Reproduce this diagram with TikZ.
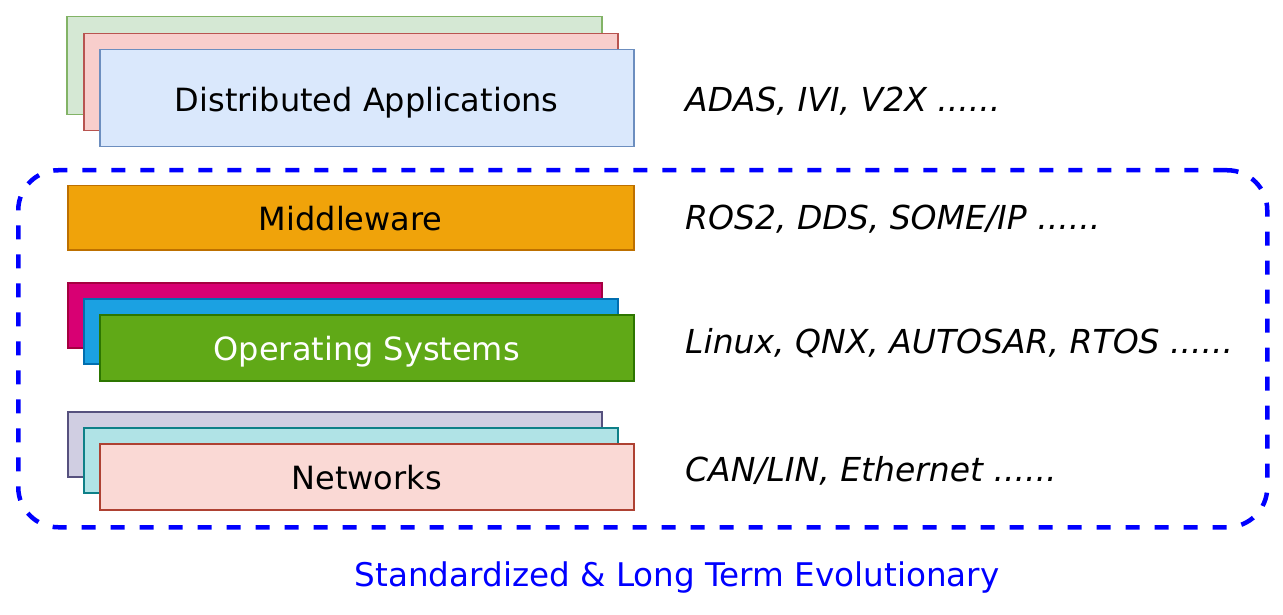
\documentclass[tikz,border=0pt]{standalone}
\usepackage{fontspec}
\setmainfont{DejaVu Sans}
\begin{document}
\begin{tikzpicture}[x=1pt,y=-1pt,
  layer/.style={draw, line width=1.5pt, inner sep=0pt, anchor=north west, text height=30pt, text depth=4pt, font=\fontsize{32}{38}\selectfont},
  side/.style={anchor=west, inner sep=0pt, font=\fontsize{33}{38}\selectfont\itshape},
]
\useasboundingbox (0,0) rectangle (1283,615);
\definecolor{gA}{HTML}{D5E8D4}\definecolor{gAb}{HTML}{82B366}
\definecolor{rA}{HTML}{F8CECC}\definecolor{rAb}{HTML}{B85450}
\definecolor{bA}{HTML}{DAE8FC}\definecolor{bAb}{HTML}{6C8EBF}
\definecolor{mw}{HTML}{F0A30A}\definecolor{mwb}{HTML}{BD7000}
\definecolor{mag}{HTML}{D80073}\definecolor{magb}{HTML}{A50040}
\definecolor{cyb}{HTML}{1BA1E2}\definecolor{cybb}{HTML}{006EAF}
\definecolor{grn}{HTML}{60A917}\definecolor{grnb}{HTML}{2D7600}
\definecolor{pur}{HTML}{D0CEE2}\definecolor{purb}{HTML}{56517E}
\definecolor{tea}{HTML}{B0E3E6}\definecolor{teab}{HTML}{0E8088}
\definecolor{pnk}{HTML}{FAD9D5}\definecolor{pnkb}{HTML}{AE4132}
\definecolor{dblue}{HTML}{0000FF}
% Distributed applications
\node[layer, fill=gA, draw=gAb, minimum width=535, minimum height=98] (da1) at (66,16) {};
\node[layer, fill=rA, draw=rAb, minimum width=534, minimum height=97] (da2) at (83,33) {};
\node[layer, fill=bA, draw=bAb, minimum width=534, minimum height=97] (da3) at (99,49) {Distributed Applications};
% Middleware
\node[layer, fill=mw, draw=mwb, minimum width=566, minimum height=64] (mw) at (67,185) {Middleware};
% OS
\node[layer, fill=mag, draw=magb, minimum width=534, minimum height=65] (os1) at (67,282) {};
\node[layer, fill=cyb, draw=cybb, minimum width=534, minimum height=65] (os2) at (83,298) {};
\node[layer, fill=grn, draw=grnb, minimum width=534, minimum height=66, text=white] (os3) at (99,314) {Operating Systems};
% Networks
\node[layer, fill=pur, draw=purb, minimum width=534, minimum height=65] (nw1) at (67,411) {};
\node[layer, fill=tea, draw=teab, minimum width=534, minimum height=65] (nw2) at (83,427) {};
\node[layer, fill=pnk, draw=pnkb, minimum width=534, minimum height=66] (nw3) at (99,443) {Networks};
% side labels
\node[side] (t1) at (685,101) {ADAS, IVI, V2X ......};
\node[side] (t2) at (685,219) {ROS2, DDS, SOME/IP ......};
\node[side] (t3) at (685,343) {Linux, QNX, AUTOSAR, RTOS ......};
\node[side] (t4) at (685,471) {CAN/LIN, Ethernet ......};
% dashed frame
\node[draw=dblue, line width=4.5pt, dash pattern=on 14pt off 15pt, rounded corners=40pt, inner sep=0pt, anchor=north west, minimum width=1249, minimum height=357] (std) at (16,168) {};
\node[text=dblue, font=\fontsize{32.6}{38}\selectfont, anchor=center] (cap) at (677,578) {Standardized \& Long Term Evolutionary};
\end{tikzpicture}
\end{document}
